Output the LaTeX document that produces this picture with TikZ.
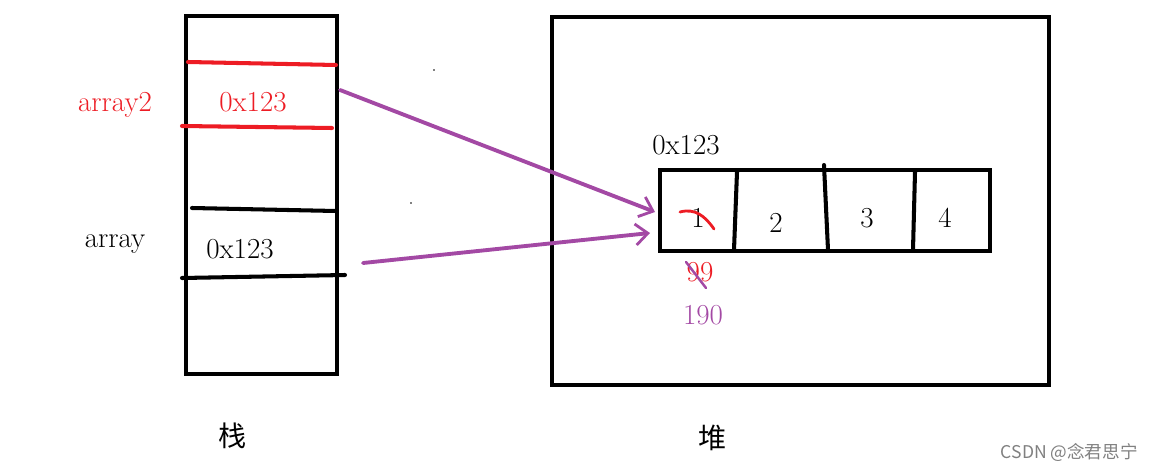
\documentclass[tikz,border=0pt]{standalone}
\usepackage{fontspec}
\newfontfamily\cjk{Noto Sans CJK SC}
\usetikzlibrary{shapes,arrows,arrows.meta}
\definecolor{penred}{RGB}{237,28,36}
\definecolor{penpurple}{RGB}{163,73,164}
\tikzstyle{box} = [rectangle, draw, line width=2.3pt, inner sep=0pt]
\tikzstyle{txt} = [inner sep=0pt, font=\fontsize{16.5}{19}\selectfont]
\tikzstyle{slot} = [line width=2.3pt, line cap=round]
\tikzstyle{ptr} = [draw, penpurple, line width=2.2pt, line cap=round,
-{Straight Barb[length=7pt, width=12pt, line width=1.6pt]}]

\begin{document}
\begin{tikzpicture}[x=0.02cm, y=-0.02cm]
\useasboundingbox (0,0) rectangle (1152,470);

% Place nodes
\node [box, minimum width=3.02cm, minimum height=7.16cm] (stack) at (261.5,195) {};
\node [box, minimum width=9.94cm, minimum height=7.36cm] (heap) at (800.5,201) {};
\node [box, minimum width=6.6cm, minimum height=1.62cm] (arr) at (825,210.5) {};
\node [txt, penred] (name2) at (115,105) {array2};
\node [txt, penred] (val2) at (253,102) {0x123};
\node [txt] (name1) at (115,244) {array};
\node [txt] (val1) at (240,249) {0x123};
\node [txt] (addr) at (686,145) {0x123};
\node [txt] (c1) at (698,218) {1};
\node [txt] (c2) at (776,223) {2};
\node [txt] (c3) at (867,218) {3};
\node [txt] (c4) at (945,218) {4};
\node [txt, penred] (old) at (700,272) {99};
\node [txt, penpurple] (new) at (703,315) {190};
\node [txt, font=\cjk\fontsize{16}{18}\selectfont] (stacklbl) at (233,436) {栈};
\node [txt, font=\cjk\fontsize{16}{18}\selectfont] (heaplbl) at (713,438) {堆};
\node [txt, gray, anchor=east, font=\cjk\fontsize{10}{12}\selectfont] (mark) at (1138,452) {CSDN @念君思宁};
\coordinate (src2) at (340,90);
\coordinate (src1) at (363,263);
\coordinate (dst2) at (655,212);
\coordinate (dst1) at (650,233);

% Draw slots
\draw [slot, penred] (188,62) -- (336,65);
\draw [slot, penred] (182,126) -- (332,128);
\draw [slot] (192,208) -- (336,211);
\draw [slot] (182,278) -- (345,275);
\draw [slot] (737,172) -- (734,250);
\draw [slot] (824,165) -- (828,250);
\draw [slot] (915,172) -- (913,250);
\fill (434,70) circle (0.5pt);
\fill (411,203) circle (0.5pt);

% Strike-outs
\draw [penred, line width=1.6pt, line cap=round] (680,212) .. controls (695,208) and (705,216) .. (714,229);
\draw [penpurple, line width=1.4pt, line cap=round] (686,262) -- (706,288);

% Draw edges
\path [ptr] (src2) -- (dst2);
\path [ptr] (src1) -- (dst1);
\end{tikzpicture}
\end{document}
